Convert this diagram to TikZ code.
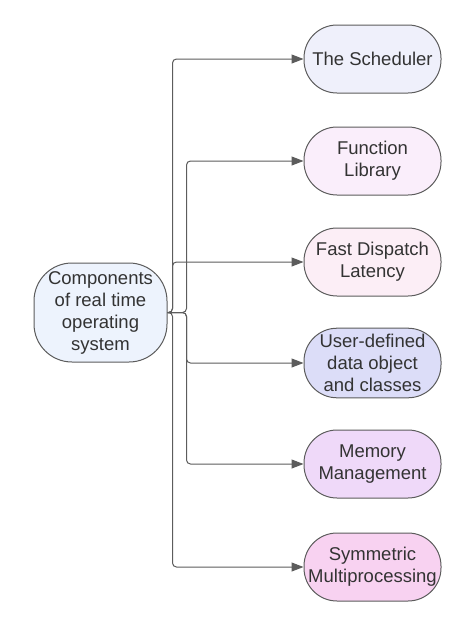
\documentclass[tikz,border=0pt]{standalone}
\usepackage{fontspec}
\setmainfont{Liberation Sans}
\usepackage{tikz}
\usetikzlibrary{arrows.meta}

\definecolor{edgegray}{HTML}{5C5C5C}
\definecolor{textgray}{HTML}{333333}
\definecolor{rootfill}{HTML}{EDF3FD}
\definecolor{schedfill}{HTML}{EFF0FB}
\definecolor{libfill}{HTML}{FAEEFB}
\definecolor{fastfill}{HTML}{FCEEF6}
\definecolor{userfill}{HTML}{DCDDF8}
\definecolor{memfill}{HTML}{EFD9F9}
\definecolor{symfill}{HTML}{F8D2F1}

\begin{document}
\begin{tikzpicture}[x=1pt, y=1pt,
    topic/.style={draw=edgegray, line width=1pt, text=textgray, align=center,
        font=\fontsize{18.5}{22}\selectfont, inner xsep=3pt, inner ysep=6pt},
    part/.style={topic, rounded corners=33pt, minimum width=137pt, minimum height=68pt},
    link/.style={draw=edgegray, line width=1pt, rounded corners=4pt,
        -{Triangle[length=12pt, width=9pt]}}]
            \useasboundingbox (0,0) rectangle (474,-643);

            % Define vertices
            \node[topic, fill=rootfill, rounded corners=38pt, minimum width=133pt, minimum height=99pt]
                (root) at (100.5,-312.5) {Components\\of real time\\operating\\system};
            \node[part, fill=schedfill] (sched) at (372.5,-59) {The Scheduler};
            \node[part, fill=libfill] (lib) at (372.5,-161) {Function\\Library};
            \node[part, fill=fastfill] (fast) at (372.5,-262) {Fast Dispatch\\Latency};
            \node[part, fill=userfill] (user) at (372.5,-363) {User-defined\\data object\\and classes};
            \node[part, fill=memfill] (mem) at (372.5,-464) {Memory\\Management};
            \node[part, fill=symfill] (sym) at (372.5,-567) {Symmetric\\Multiprocessing};

            % Draw edges with arrows
            \draw[link] (root.east) -- ++(5,0) |- (sched.west);
            \draw[link] (root.east) -- ++(19,0) |- (lib.west);
            \draw[link] (root.east) -- ++(5,0) |- (fast.west);
            \draw[link] (root.east) -- ++(19,0) |- (user.west);
            \draw[link] (root.east) -- ++(19,0) |- (mem.west);
            \draw[link] (root.east) -- ++(5,0) |- (sym.west);
        \end{tikzpicture}
\end{document}
